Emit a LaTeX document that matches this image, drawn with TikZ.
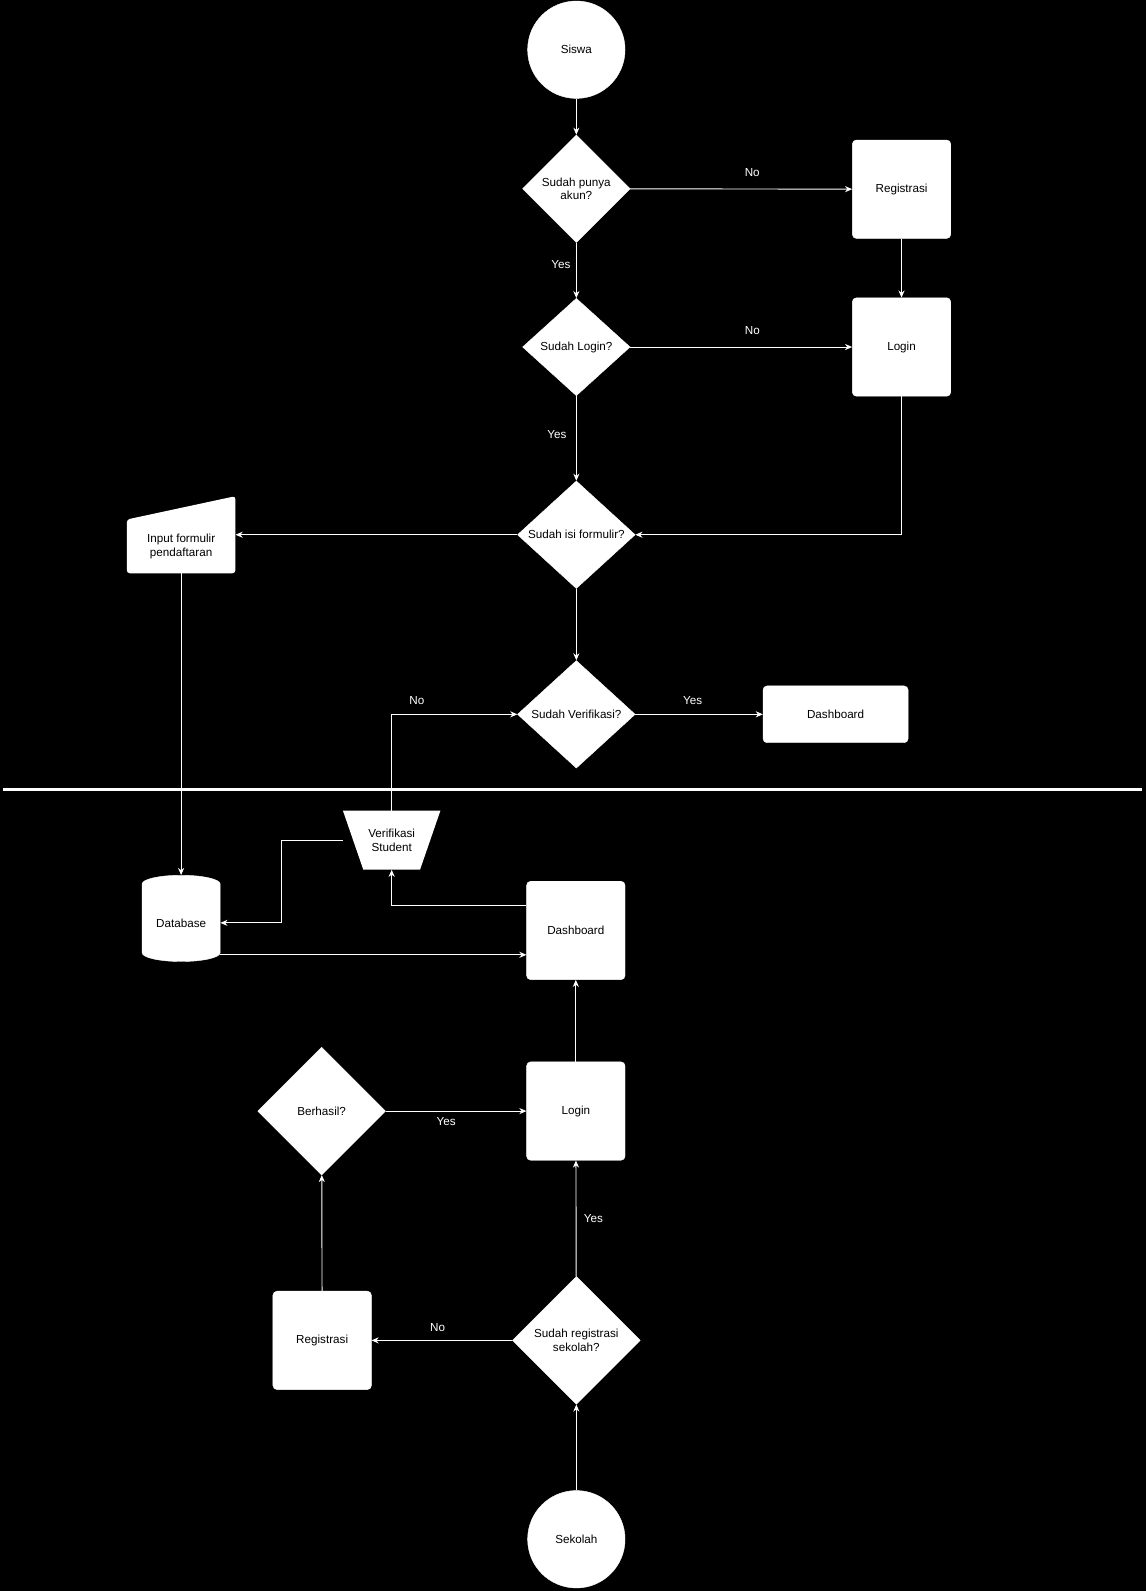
\documentclass[tikz,border=0pt]{standalone}
\usepackage{fontspec}
\setmainfont{Liberation Sans}
\usetikzlibrary{shapes.geometric,arrows.meta}
\begin{document}
\begin{tikzpicture}[x=1pt,y=-1pt,
  every node/.style={font=\fontsize{11.5}{13.5}\selectfont},
  fl/.style={draw=white,fill=white,text=black},
  bx/.style={fl,rectangle,rounded corners=4pt,minimum width=97,minimum height=97,inner sep=0},
  dm/.style={fl,diamond,inner sep=0,align=center},
  cr/.style={fl,circle,minimum size=96,inner sep=0},
  lb/.style={text=white},
  ar/.style={draw=white,line width=0.9pt,-{Stealth[length=7pt,width=6pt]}}]
\fill[black] (0,0) rectangle (1129,1568);
\useasboundingbox (0,0) rectangle (1129,1568);
\node[cr] (siswa) at (568,49) {Siswa};
\node[dm,minimum width=106,minimum height=106] (d1) at (568,186) {Sudah punya\\akun?};
\node[bx] (reg1) at (888.5,186.5) {Registrasi};
\node[dm,minimum width=106,minimum height=96] (d2) at (568,342) {Sudah Login?};
\node[bx] (log1) at (888.5,342) {Login};
\node[dm,minimum width=116,minimum height=106] (d3) at (568,527) {Sudah isi formulir?};
\fill[white,rounded corners=3pt] (125,512) -- (232,489) -- (232,565) -- (125,565) -- cycle;
\node[minimum width=107,minimum height=53,inner sep=0,align=center] (inp) at (178.5,538.5) {Input formulir\\pendaftaran};
\node[dm,minimum width=116,minimum height=106] (d4) at (568,704) {Sudah Verifikasi?};
\node[fl,rounded corners=4pt,minimum width=143,minimum height=56,inner sep=0] (dash1) at (823.5,704) {Dashboard};
\draw[white,line width=3.5pt] (3,778) -- (1125,778);
\fill[white] (338,799) -- (434,799) -- (414,857) -- (358,857) -- cycle;
\node[minimum width=96,minimum height=58,inner sep=0,align=center] (ver) at (386,828) {Verifikasi\\Student};
\node[fl,cylinder,shape border rotate=90,aspect=0.35,minimum width=77,minimum height=85,inner sep=0] (db) at (178.5,909.5) {Database};
\node[bx] (dash2) at (567.5,917) {Dashboard};
\node[bx] (log2) at (567.5,1095) {Login};
\node[dm,minimum width=126,minimum height=126] (ber) at (317,1095) {Berhasil?};
\node[bx] (reg2) at (317.5,1321) {Registrasi};
\node[dm,minimum width=126,minimum height=126] (d5) at (568,1321) {Sudah registrasi\\sekolah?};
\node[cr] (sek) at (568,1517) {Sekolah};
% edges
\draw[ar] (siswa) -- (d1);
\draw[ar] (d1) -- (reg1) node[lb,pos=0.55,above=8pt] {No};
\draw[ar] (d1) -- (d2) node[lb,pos=0.4,left=2pt] {Yes};
\draw[ar] (reg1) -- (log1);
\draw[ar] (d2) -- (log1) node[lb,pos=0.55,above=8pt] {No};
\draw[ar] (d2) -- (d3) node[lb,pos=0.45,left=6pt] {Yes};
\draw[ar] (log1.south) |- (d3.east);
\draw[ar] (d3.west) -- (inp.east |- d3.west);
\draw[ar] (inp.south) -- (db.top);
\draw[ar] (d3) -- (d4);
\draw[ar] (d4) -- (dash1) node[lb,pos=0.45,above=6pt] {Yes};
\draw[ar] (ver.north) |- (d4.west) node[lb,pos=0.6,above=6pt] {No};
\draw[ar] (ver.west) -- ++(-60,0) |- (db.east);
\draw[ar] (dash2.west |- 0,892) -| (ver.south);
\draw[ar] (217,941) -- (dash2.west |- 0,941);
\draw[ar] (log2) -- (dash2);
\draw[ar] (ber) -- (log2) node[lb,pos=0.43,below=3pt] {Yes};
\draw[ar] (d5) -- (log2) node[lb,midway,right=4pt] {Yes};
\draw[ar] (d5) -- (reg2) node[lb,pos=0.53,above=5pt] {No};
\draw[ar] (reg2) -- (ber);
\draw[ar] (sek) -- (d5);
\end{tikzpicture}
\end{document}
